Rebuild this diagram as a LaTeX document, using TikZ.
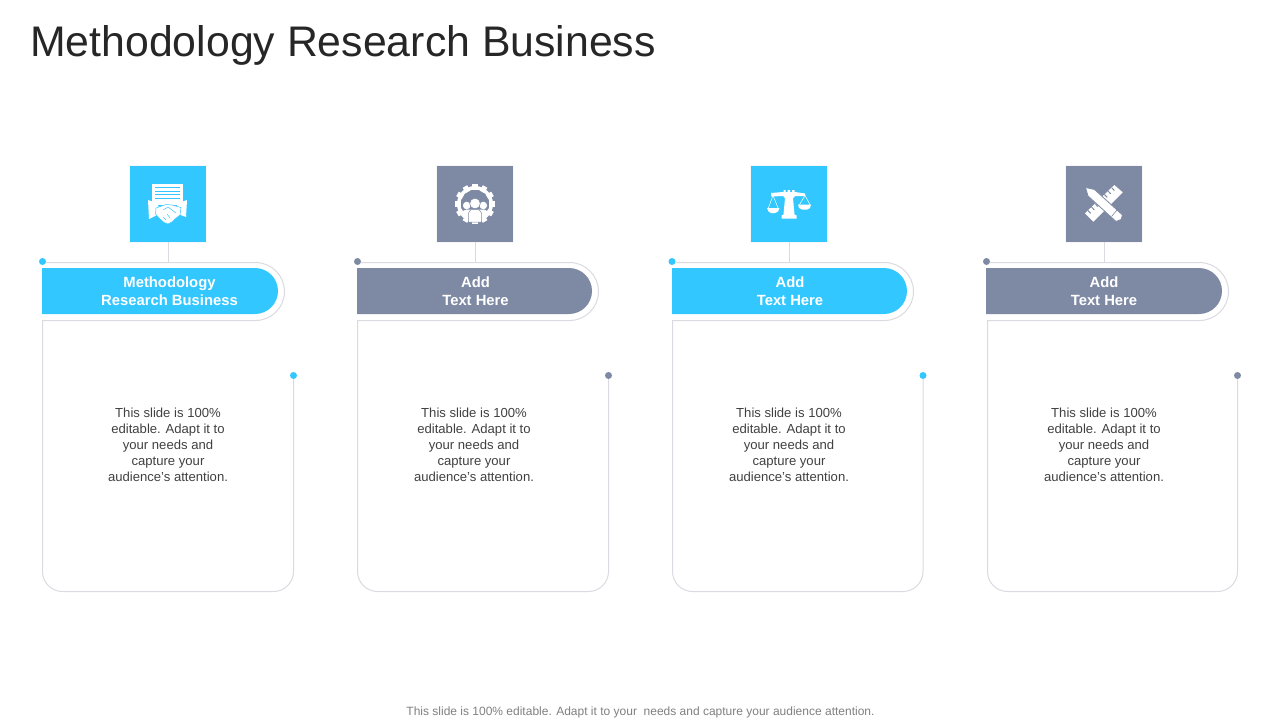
\documentclass[tikz,border=0pt]{standalone}
\usepackage{fontspec}
\setmainfont{Liberation Sans}
\definecolor{skyfill}{RGB}{51,199,255}
\definecolor{slatefill}{RGB}{126,138,163}
\definecolor{guidegray}{RGB}{218,218,224}
\definecolor{bodygray}{RGB}{64,64,64}
\definecolor{titlegray}{RGB}{38,38,38}
\definecolor{footgray}{RGB}{127,127,127}
\tikzset{
	iconbox/.style={minimum size=76.5pt, inner sep=0pt, outer sep=0pt, draw=white!97!black, line width=0.8pt},
	dotmark/.style={circle, minimum size=7pt, inner sep=0pt, outer sep=0pt},
	guide/.style={draw=guidegray, line width=1pt},
	pilltext/.style={text=white, align=center, font=\fontsize{14.8}{18}\selectfont\bfseries},
	bodytext/.style={text=bodygray, align=center, font=\fontsize{13.1}{16}\selectfont},
}

\begin{document}
\begin{tikzpicture}[x=1pt, y=-1pt]
	\useasboundingbox (0, 0) rectangle (1280, 720);
	%%%%% TITLE %%%%%
	\node[anchor=west, inner sep=0pt, text=titlegray, font=\fontsize{42.8}{48}\selectfont] (title) at (30, 45.5) {Methodology Research Business};
	
	%%%%% FIRST COLUMN %%%%%
	\node[iconbox, fill=skyfill] (iconA) at (168, 204) {};
	\node[dotmark, fill=skyfill] (startA) at (42.5, 261.5) {};
	\node[dotmark, fill=skyfill] (endA) at (293.5, 375.5) {};
	\coordinate (topA) at (168.5, 262.5);
	\draw[guide] (iconA.south -| topA) -- (topA);
	\draw[guide, rounded corners=29pt] (startA.east |- topA) -- (284.5, 262.5) -- (284.5, 320.5) -- (42, 320.5);
	\draw[guide, rounded corners=20pt] (42.5, 320.5) -- (42.5, 591.5) -- (293.5, 591.5) -- (endA);
	\fill[skyfill] (42, 268) [rounded corners=23pt] -- (278, 268) -- (278, 314) [sharp corners] -- (42, 314) -- cycle;
	\node[pilltext] (labelA) at (169.5, 291.5) {Methodology\ \\Research Business};
	\node[bodytext] (textA) at (168, 445) {This slide is 100\%\\editable. Adapt it to\\your needs and\\capture your\\audience's attention.};
	
	% paper and handshake
	\fill[white] (152, 184) rectangle (183, 205);
	\draw[skyfill, line width=0.5pt] (155, 187.5) -- (180, 187.5) (155, 191) -- (180, 191) (155, 194.5) -- (180, 194.5) (155, 198) -- (180, 198);
	\fill[white] (148, 200) -- (157, 203) -- (159, 208) -- (157, 215) -- (149, 219) -- cycle;
	\fill[white] (187, 200) -- (178, 203) -- (176, 208) -- (178, 214) -- (186, 217) -- cycle;
	\fill[white, draw=skyfill, line width=0.5pt] (156, 208) -- (166, 204.5) -- (172, 205) -- (181, 207.5) -- (180, 215) -- (175, 219) -- (172, 222) -- (168, 224) -- (164, 222.5) -- (160, 219) -- (155.5, 214) -- cycle;
	\draw[skyfill, line width=0.5pt] (163, 210) -- (168, 207) -- (176, 213) (163, 217) -- (166, 220) (167, 214) -- (170, 218);
	
	%%%%% SECOND COLUMN %%%%%
	\node[iconbox, fill=slatefill] (iconB) at (475, 204) {};
	\node[dotmark, fill=slatefill] (startB) at (357.5, 261.5) {};
	\node[dotmark, fill=slatefill] (endB) at (608.5, 375.5) {};
	\coordinate (topB) at (475.5, 262.5);
	\draw[guide] (iconB.south -| topB) -- (topB);
	\draw[guide, rounded corners=29pt] (startB.east |- topB) -- (598.5, 262.5) -- (598.5, 320.5) -- (357, 320.5);
	\draw[guide, rounded corners=20pt] (357.5, 320.5) -- (357.5, 591.5) -- (608.5, 591.5) -- (endB);
	\fill[slatefill] (357, 268) [rounded corners=23pt] -- (592, 268) -- (592, 314) [sharp corners] -- (357, 314) -- cycle;
	\node[pilltext] (labelB) at (475.5, 291.5) {Add\ \\Text Here};
	\node[bodytext] (textB) at (474, 445) {This slide is 100\%\\editable. Adapt it to\\your needs and\\capture your\\audience's attention.};
	
	% gear and people
	\fill[white, even odd rule] (475, 204) circle (18) (475, 204) circle (14.5);
	\foreach \tooth in {0, 30, ..., 330}
		\fill[white, rotate around={\tooth:(475, 204)}] (472.4, 183.8) rectangle (477.6, 190);
	\fill[white] (466.7, 205.5) circle (3.8);
	\fill[white] (483.3, 205.5) circle (3.8);
	\fill[white] (460.5, 214) -- (462, 211.5) -- (466, 209.5) -- (484, 209.5) -- (488, 211.5) -- (489.5, 214) -- (484, 220) -- (475, 222) -- (466, 220) -- cycle;
	\fill[white, draw=slatefill, line width=0.5pt] (468.5, 222) -- (468.5, 213) -- (471, 209.5) -- (479, 209.5) -- (481.5, 213) -- (481.5, 222) -- cycle;
	\fill[white, draw=slatefill, line width=0.5pt] (475, 203.5) circle (5.3);
	
	%%%%% THIRD COLUMN %%%%%
	\node[iconbox, fill=skyfill] (iconC) at (789, 204) {};
	\node[dotmark, fill=skyfill] (startC) at (672, 261.5) {};
	\node[dotmark, fill=skyfill] (endC) at (923, 375.5) {};
	\coordinate (topC) at (789.5, 262.5);
	\draw[guide] (iconC.south -| topC) -- (topC);
	\draw[guide, rounded corners=29pt] (startC.east |- topC) -- (913.5, 262.5) -- (913.5, 320.5) -- (672, 320.5);
	\draw[guide, rounded corners=20pt] (672.5, 320.5) -- (672.5, 591.5) -- (923, 591.5) -- (endC);
	\fill[skyfill] (672, 268) [rounded corners=23pt] -- (907, 268) -- (907, 314) [sharp corners] -- (672, 314) -- cycle;
	\node[pilltext] (labelC) at (790, 291.5) {Add\ \\Text Here};
	\node[bodytext] (textC) at (789, 445) {This slide is 100\%\\editable. Adapt it to\\your needs and\\capture your\\audience's attention.};
	
	% scales on a tower
	\fill[white] (771, 193) -- (783, 192) -- (795, 192) -- (805, 193.5) -- (805, 196) -- (795, 196) -- (783, 196) -- (771, 196.5) -- cycle;
	\fill[white] (783.5, 190) -- (785.5, 190) -- (785.5, 192) -- (787.5, 192) -- (787.5, 190) -- (790, 190) -- (790, 192) -- (792, 192) -- (792, 190) -- (794.5, 190) -- (794.5, 197) -- (793, 198) -- (794.5, 214.5) -- (796.5, 215.5) -- (796.5, 218.5) -- (781.5, 218.5) -- (781.5, 215.5) -- (783.5, 214.5) -- (785, 198) -- (783.5, 197) -- cycle;
	\draw[white, line width=0.5pt] (768, 209) -- (773, 195.5) -- (778.5, 209) (799, 205.5) -- (805, 195.5) -- (810.5, 205.5);
	\fill[white] (767, 208) -- (779.5, 208) -- (778, 211.5) -- (775, 213) -- (771, 213) -- (768.5, 211.5) -- cycle;
	\fill[white] (798, 204.5) -- (811, 204.5) -- (810, 208) -- (807, 209.5) -- (802, 209.5) -- (799, 208) -- cycle;
	
	%%%%% FOURTH COLUMN %%%%%
	\node[iconbox, fill=slatefill] (iconD) at (1104, 204) {};
	\node[dotmark, fill=slatefill] (startD) at (986.5, 261.5) {};
	\node[dotmark, fill=slatefill] (endD) at (1237.5, 375.5) {};
	\coordinate (topD) at (1104.5, 262.5);
	\draw[guide] (iconD.south -| topD) -- (topD);
	\draw[guide, rounded corners=29pt] (startD.east |- topD) -- (1228.5, 262.5) -- (1228.5, 320.5) -- (987, 320.5);
	\draw[guide, rounded corners=20pt] (987.5, 320.5) -- (987.5, 591.5) -- (1237.5, 591.5) -- (endD);
	\fill[slatefill] (986, 268) [rounded corners=23pt] -- (1222, 268) -- (1222, 314) [sharp corners] -- (986, 314) -- cycle;
	\node[pilltext] (labelD) at (1104, 291.5) {Add\ \\Text Here};
	\node[bodytext] (textD) at (1104, 445) {This slide is 100\%\\editable. Adapt it to\\your needs and\\capture your\\audience's attention.};
	
	% ruler under pencil
	\fill[white] (1085, 213.3) -- (1114.3, 185) -- (1122.7, 192.3) -- (1093.3, 221.7) -- cycle;
	\draw[slatefill, line width=1pt] (1087.9, 210.5) -- (1090.7, 213.4) (1091.5, 207) -- (1094.3, 209.9) (1095.1, 203.6) -- (1097.9, 206.5) (1104.4, 194.5) -- (1107.2, 197.4) (1108, 191) -- (1110.8, 193.9) (1111.6, 187.6) -- (1114.4, 190.5);
	\fill[white, draw=slatefill, line width=0.8pt] (1085.5, 187.5) -- (1094.5, 189.5) -- (1122.5, 215) -- (1121, 219.5) -- (1116, 221.5) -- (1088, 196) -- cycle;
	\draw[slatefill, line width=0.6pt] (1117, 210) -- (1111.5, 216.5);
	
	%%%%% FOOTER %%%%%
	\node[text=footgray, inner sep=0pt, font=\fontsize{12}{14}\selectfont] (footer) at (640.5, 712) {This slide is 100\% editable. Adapt it to your\ \ needs and capture your audience attention.};
\end{tikzpicture}
\end{document}
